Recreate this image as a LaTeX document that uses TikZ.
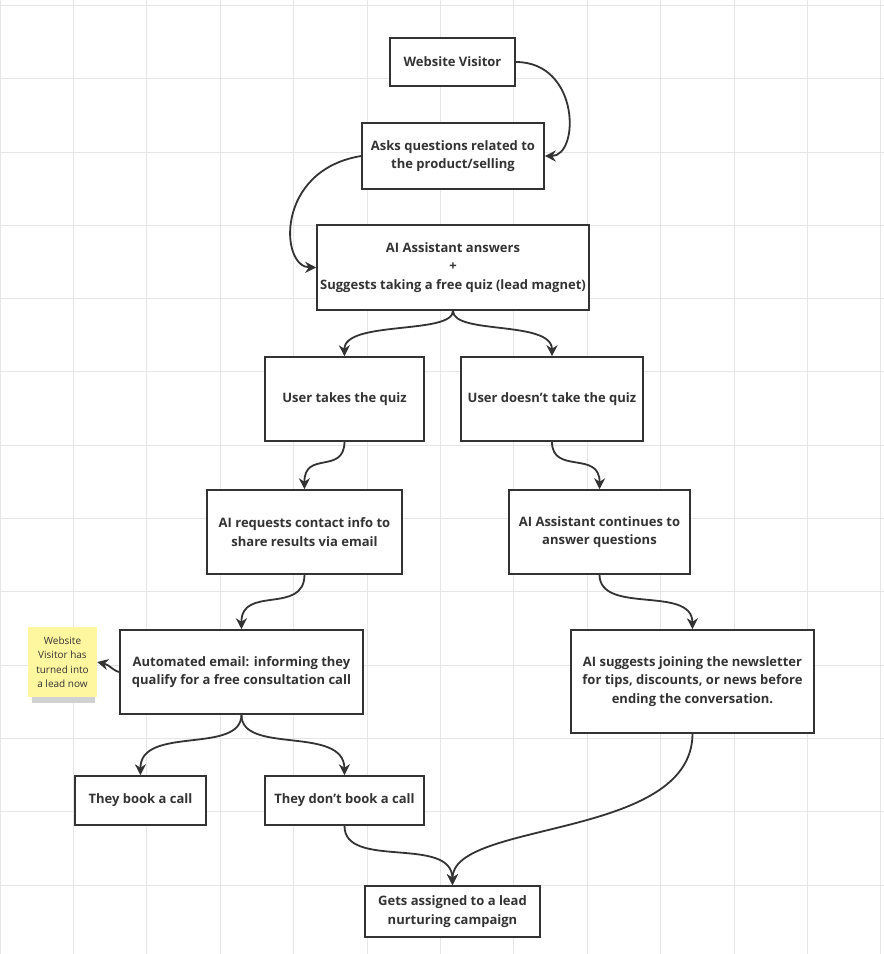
\documentclass[tikz,border=0pt]{standalone}
\usepackage{fontspec}
\setmainfont{Open Sans}
\usetikzlibrary{arrows.meta}
\definecolor{ink}{HTML}{333333}
\definecolor{gridc}{HTML}{E6E6E6}
\definecolor{sticky}{HTML}{FFF7A0}
\begin{document}
\begin{tikzpicture}[x=1pt,y=-1pt,
  box/.style={draw=ink,line width=1.6pt,fill=white,align=center,font=\fontsize{13}{18.5}\selectfont\bfseries,text=ink,inner sep=0pt},
  conn/.style={draw=ink,line width=1.8pt,-{Stealth[length=11pt,width=11pt]}}]
\fill[white] (0,0) rectangle (884,954);
\useasboundingbox (0,0) rectangle (884,954);
\foreach \i in {0,...,12} \draw[gridc,line width=1pt] (\i*73.4,0) -- (\i*73.4,954);
\foreach \i in {0,...,13} \draw[gridc,line width=1pt] (0,5.4+\i*73.3) -- (884,5.4+\i*73.3);
% sticky
\fill[black!18] (32,697) rectangle (95,703);
\node[fill=sticky,minimum width=69pt,minimum height=70pt,align=center,inner sep=0pt,font=\fontsize{10}{14.5}\selectfont,text=ink] (st) at (62.5,662) {Website\\Visitor has\\turned into\\a lead now};
\node[box,minimum width=125pt,minimum height=48pt] (b1) at (452.5,62) {Website Visitor};
\node[box,minimum width=182pt,minimum height=66pt] (b2) at (453,156) {Asks questions related to\\the product/selling};
\node[box,minimum width=272pt,minimum height=85pt] (b3) at (453,267.5) {AI Assistant answers\\+\\Suggests taking a free quiz (lead magnet)};
\node[box,minimum width=159pt,minimum height=84pt] (b4) at (344.5,399) {User takes the quiz};
\node[box,minimum width=182pt,minimum height=84pt] (b5) at (552,399) {User doesn't take the quiz};
\node[box,minimum width=195pt,minimum height=84pt] (b6) at (304.5,532) {AI requests contact info to\\share results via email};
\node[box,minimum width=181pt,minimum height=84pt] (b7) at (599.5,532) {AI Assistant continues to\\answer questions};
\node[box,minimum width=243pt,minimum height=84pt] (b8) at (241.5,672) {Automated email: informing they\\qualify for a free consultation call};
\node[box,minimum width=243pt,minimum height=103pt] (b9) at (692.5,681.5) {AI suggests joining the newsletter\\for tips, discounts, or news before\\ending the conversation.};
\node[box,minimum width=131pt,minimum height=49pt] (b10) at (140.5,800.5) {They book a call};
\node[box,minimum width=159pt,minimum height=49pt] (b11) at (344.5,800.5) {They don't book a call};
\node[box,minimum width=175pt,minimum height=51pt] (b12) at (452.5,911.5) {Gets assigned to a lead\\nurturing campaign};
% connectors
\draw[conn] (b1.east) .. controls (580,62) and (580,156) .. (b2.east);
\draw[conn] (b2.west) .. controls (275,170) and (280,267) .. (b3.west);
\draw[conn] (b3.south) .. controls (453,335) and (344,320) .. (b4.north);
\draw[conn] (b3.south) .. controls (453,335) and (552,320) .. (b5.north);
\draw[conn] (b4.south) .. controls (344,475) and (304,450) .. (b6.north);
\draw[conn] (b5.south) .. controls (552,475) and (600,450) .. (b7.north);
\draw[conn] (b6.south) .. controls (304,615) and (241,585) .. (b8.north);
\draw[conn] (b7.south) .. controls (600,615) and (692,585) .. (b9.north);
\draw[conn] (b8.south) .. controls (241,755) and (140,725) .. (b10.north);
\draw[conn] (b8.south) .. controls (241,755) and (344,725) .. (b11.north);
\draw[conn] (b8.west) .. controls (112,670) and (110,665) .. (st.east);
\draw[conn] (b11.south) .. controls (344,870) and (452,835) .. (b12.north);
\draw[conn] (b9.south) .. controls (692,840) and (452,820) .. (b12.north);
\end{tikzpicture}
\end{document}
